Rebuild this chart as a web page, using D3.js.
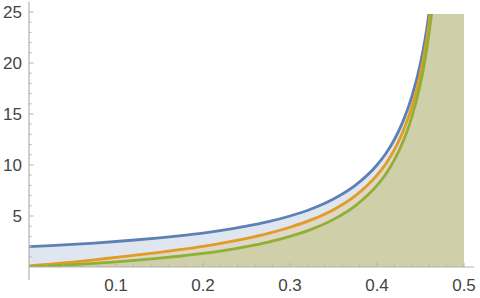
<!DOCTYPE html>
<html>
<head>
<meta charset="utf-8">
<script src="https://cdn.jsdelivr.net/npm/d3@7"></script>
<style>
  body { margin: 0; background: #fff; }
  svg { display: block; }
</style>
</head>
<body>
<svg id="chart" width="480" height="298"></svg>
<script>
// values
const xs = [0, 0.025, 0.05, 0.075, 0.1, 0.125, 0.15, 0.175, 0.2, 0.225, 0.25, 0.275,
            0.3, 0.325, 0.35, 0.375, 0.4, 0.41, 0.42, 0.43, 0.44, 0.45, 0.455, 0.46, 0.463];
const blueVals   = [2.0, 2.1, 2.22, 2.35, 2.5, 2.67, 2.86, 3.08, 3.33, 3.64, 4.0, 4.44,
                    5.0, 5.71, 6.67, 8.0, 10.0, 11.1, 12.5, 14.3, 16.7, 20.0, 22.2, 25.0, 27.0];
const orangeVals = [0.1, 0.29, 0.48, 0.7, 0.95, 1.18, 1.43, 1.72, 2.03, 2.39, 2.8, 3.29,
                    3.9, 4.64, 5.62, 6.97, 9.0, 10.1, 11.5, 13.3, 15.7, 19.0, 21.2, 24.0, 26.0];
const greenVals  = [0.0, 0.1, 0.22, 0.35, 0.5, 0.67, 0.86, 1.08, 1.33, 1.64, 2.0, 2.44,
                    3.0, 3.71, 4.67, 6.0, 8.0, 9.1, 10.5, 12.3, 14.7, 18.0, 20.2, 23.0, 25.0];
const xTicks = [0.1, 0.2, 0.3, 0.4, 0.5];
const yTicks = [5, 10, 15, 20, 25];

const series = [
  { name: "blue", values: blueVals, color: "#5e81b5" },
  { name: "orange", values: orangeVals, color: "#e19c24" },
  { name: "green", values: greenVals, color: "#8fb032" }
];

const yClip = 24.8;   // top of the plot range
const xEnd = 0.5;

const svg = d3.select("#chart");
const x = d3.scaleLinear().domain([0, 0.5]).range([29, 464]);
const y = d3.scaleLinear().domain([0, 25]).range([267, 12]);

svg.append("clipPath").attr("id", "plotclip")
  .append("rect")
  .attr("x", x(0)).attr("y", y(yClip))
  .attr("width", x(xEnd) - x(0)).attr("height", y(0) - y(yClip));

const plot = svg.append("g").attr("clip-path", "url(#plotclip)");

// fills to the axis, each at 20% opacity
series.forEach(s => {
  const pts = xs.map((v, i) => [v, Math.min(s.values[i], yClip)]);
  pts.push([xEnd, yClip]);
  plot.append("path")
    .datum(pts)
    .attr("fill", s.color)
    .attr("fill-opacity", 0.2)
    .attr("d", d3.area()
      .curve(d3.curveMonotoneX)
      .x(d => x(d[0]))
      .y0(y(0))
      .y1(d => y(d[1])));
});

// lines
series.forEach(s => {
  plot.append("path")
    .datum(xs.map((v, i) => [v, s.values[i]]))
    .attr("fill", "none")
    .attr("stroke", s.color)
    .attr("stroke-width", 2.8)
    .attr("d", d3.line()
      .curve(d3.curveMonotoneX)
      .x(d => x(d[0]))
      .y(d => y(d[1])));
});

const axisColor = "#b3b3b3";
const textColor = "#444";

// x axis
svg.append("line")
  .attr("x1", x(0)).attr("x2", 474)
  .attr("y1", y(0)).attr("y2", y(0))
  .attr("stroke", axisColor).attr("stroke-width", 1.2);

d3.range(1, 26).forEach(i => {
  const v = i * 0.02;
  const major = i % 5 === 0;
  svg.append("line")
    .attr("x1", x(v)).attr("x2", x(v))
    .attr("y1", y(0)).attr("y2", y(0) - (major ? 4.5 : 2.5))
    .attr("stroke", axisColor).attr("stroke-width", 1);
});

svg.selectAll(".xlab").data(xTicks).enter().append("text")
  .attr("x", d => x(d))
  .attr("y", 291)
  .attr("text-anchor", "middle")
  .attr("font-family", "Liberation Sans, Arial, sans-serif")
  .attr("font-size", 17)
  .attr("fill", textColor)
  .text(d => d3.format(".1f")(d));

// y axis
svg.append("line")
  .attr("x1", x(0)).attr("x2", x(0))
  .attr("y1", 280).attr("y2", 2)
  .attr("stroke", axisColor).attr("stroke-width", 1.2);

d3.range(1, 26).forEach(v => {
  const major = v % 5 === 0;
  svg.append("line")
    .attr("x1", x(0)).attr("x2", x(0) + (major ? 4.5 : 2.5))
    .attr("y1", y(v)).attr("y2", y(v))
    .attr("stroke", axisColor).attr("stroke-width", 1);
});

svg.selectAll(".ylab").data(yTicks).enter().append("text")
  .attr("x", 22)
  .attr("y", d => y(d) + 6)
  .attr("text-anchor", "end")
  .attr("font-family", "Liberation Sans, Arial, sans-serif")
  .attr("font-size", 17)
  .attr("fill", textColor)
  .text(d => d);
</script>
</body>
</html>
